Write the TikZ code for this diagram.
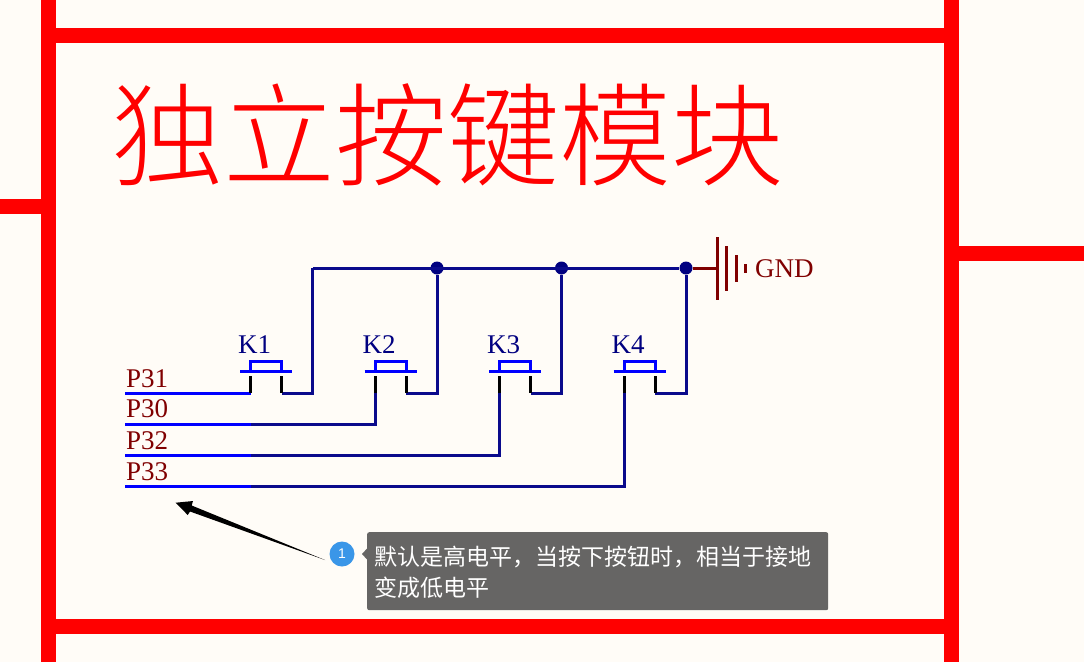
\documentclass[tikz,border=0pt]{standalone}
\usepackage{fontspec}
\setmainfont{Liberation Serif}
\newfontfamily\cjk{Noto Sans CJK SC}
\newfontfamily\cjklight{Noto Sans CJK SC Light}
\newfontfamily\badgefont{Liberation Sans}
\usepackage{tikz}
\usetikzlibrary{arrows.meta,calc,positioning}
\definecolor{paper}{HTML}{FFFCF7}
\definecolor{frame}{HTML}{FF0000}
\definecolor{wire}{HTML}{0A0A8C}
\definecolor{bright}{HTML}{0000FF}
\definecolor{netlabel}{HTML}{800000}
\definecolor{partlabel}{HTML}{000080}
\definecolor{notegrey}{HTML}{666564}
\definecolor{badgeblue}{HTML}{3A96E8}

\begin{document}
\begin{tikzpicture}[
    x=1pt, y=-1pt,
    frameline/.style={frame, line width=15pt},
    wireline/.style={wire, line width=3pt},
    pinline/.style={bright, line width=3pt},
    legline/.style={black, line width=3pt},
    gndline/.style={netlabel, line width=3pt},
    junction/.style={circle, fill=partlabel, inner sep=0pt, minimum size=13pt},
    netname/.style={anchor=west, inner sep=0pt, text=netlabel, font=\fontsize{27}{29}\selectfont},
    partname/.style={anchor=west, inner sep=0pt, text=partlabel, font=\fontsize{27}{29}\selectfont},
    note/.style={rectangle, fill=notegrey, rounded corners=2pt, minimum width=461pt, minimum height=78pt, inner sep=0pt},
    badge/.style={circle, fill=badgeblue, inner sep=0pt, minimum size=25pt, text=white, font=\badgefont\fontsize{14}{14}\selectfont}
]
\useasboundingbox[fill=paper] (0,0) rectangle (1084,662);

% red frame
\draw[frameline] (48.5,0) -- (48.5,662);
\draw[frameline] (951,0) -- (951,662);
\draw[frameline] (48.5,35.5) -- (951,35.5);
\draw[frameline] (48.5,626) -- (951,626);
\draw[frameline] (0,206.5) -- (48.5,206.5);
\draw[frameline] (951,253) -- (1084,253);

\node[inner sep=0pt, text=frame, font=\cjklight\fontsize{112}{112}\selectfont] (title) at (447,135) {独立按键模块};

% net and part names
\node[netname] (p31) at (126,378.5) {P31};
\node[netname] (p30) at (126,408.5) {P30};
\node[netname] (p32) at (126,440.5) {P32};
\node[netname] (p33) at (126,471.5) {P33};
\node[partname] (k1) at (238,345) {K1};
\node[partname] (k2) at (362.5,345) {K2};
\node[partname] (k3) at (487,345) {K3};
\node[partname] (k4) at (611.5,345) {K4};
\node[netname] (gnd) at (755,269) {GND};

% junctions on the ground rail
\coordinate (railstart) at (312.5,268);
\node[junction] (j2) at (437,268) {};
\node[junction] (j3) at (561.5,268) {};
\node[junction] (j4) at (686,268) {};
\coordinate (gndbar) at (717,268);

% left ends of the nets
\coordinate (p31a) at (125,393);
\coordinate (p30a) at (125,424);
\coordinate (p32a) at (125,455);
\coordinate (p33a) at (125,486);
\coordinate (p30b) at (250.5,424);
\coordinate (p32b) at (250.5,455);
\coordinate (p33b) at (250.5,486);

% switch pins
\coordinate (k1l) at (250.5,376);
\coordinate (k1r) at (281.5,376);
\coordinate (k2l) at (375,376);
\coordinate (k2r) at (406,376);
\coordinate (k3l) at (499.5,376);
\coordinate (k3r) at (530.5,376);
\coordinate (k4l) at (624,376);
\coordinate (k4r) at (655,376);

% wires
\draw[wireline] (railstart) -- (j4);
\draw[wireline] (k1r |- p31a) -- (railstart |- p31a) -- (railstart);
\draw[wireline] (k2r |- p31a) -- (j2 |- p31a) -- (j2);
\draw[wireline] (k3r |- p31a) -- (j3 |- p31a) -- (j3);
\draw[wireline] (k4r |- p31a) -- (j4 |- p31a) -- (j4);
\draw[wireline] (p30b) -- (k2l |- p30a) -- (k2l |- p31a);
\draw[wireline] (p32b) -- (k3l |- p32a) -- (k3l |- p31a);
\draw[wireline] (p33b) -- (k4l |- p33a) -- (k4l |- p31a);
\draw[pinline] (p31a) -- (k1l |- p31a);
\draw[pinline] (p30a) -- (p30b);
\draw[pinline] (p32a) -- (p32b);
\draw[pinline] (p33a) -- (p33b);

% pin stubs
\draw[legline] (k1l) -- (k1l |- p31a);
\draw[legline] (k1r) -- (k1r |- p31a);
\draw[legline] (k2l) -- (k2l |- p31a);
\draw[legline] (k2r) -- (k2r |- p31a);
\draw[legline] (k3l) -- (k3l |- p31a);
\draw[legline] (k3r) -- (k3r |- p31a);
\draw[legline] (k4l) -- (k4l |- p31a);
\draw[legline] (k4r) -- (k4r |- p31a);

% switch caps
\draw[pinline] ($(k1l)+(-10.5,-5)$) -- ($(k1r)+(10.5,-5)$);
\draw[pinline] ($(k1l)+(0,-5)$) |- ($(k1r)+(0,-15)$) -- ($(k1r)+(0,-5)$);
\draw[pinline] ($(k2l)+(-10.5,-5)$) -- ($(k2r)+(10.5,-5)$);
\draw[pinline] ($(k2l)+(0,-5)$) |- ($(k2r)+(0,-15)$) -- ($(k2r)+(0,-5)$);
\draw[pinline] ($(k3l)+(-10.5,-5)$) -- ($(k3r)+(10.5,-5)$);
\draw[pinline] ($(k3l)+(0,-5)$) |- ($(k3r)+(0,-15)$) -- ($(k3r)+(0,-5)$);
\draw[pinline] ($(k4l)+(-10.5,-5)$) -- ($(k4r)+(10.5,-5)$);
\draw[pinline] ($(k4l)+(0,-5)$) |- ($(k4r)+(0,-15)$) -- ($(k4r)+(0,-5)$);

% ground symbol
\draw[gndline] (j4) -- (gndbar);
\draw[gndline] ($(gndbar)+(0,-31)$) -- ($(gndbar)+(0,32)$);
\draw[gndline] ($(gndbar)+(9.5,-22)$) -- ($(gndbar)+(9.5,23)$);
\draw[gndline] ($(gndbar)+(19,-13)$) -- ($(gndbar)+(19,14)$);
\draw[gndline] ($(gndbar)+(28,-4)$) -- ($(gndbar)+(28,5)$);

% callout
\node[note, anchor=north west] (tip) at (367,532) {};
\node[anchor=west, align=left, inner sep=0pt, text=white, font=\cjk\fontsize{23}{31}\selectfont] (tiptext) at (374.5,572) {默认是高电平，当按下按钮时，相当于接地\\变成低电平};
\fill[notegrey] (362,554) -- (367.5,548) -- (367.5,560) -- cycle;
\node[badge] (num) at (342,554) {1};

% tapered pointer
\coordinate (tail) at (325,560);
\coordinate (head) at (175.7,502.7);
\fill[black] (tail) -- (191.7,505.5) -- (193,501) -- (head) -- (187.7,515) -- (190,511.5) -- cycle;
\end{tikzpicture}
\end{document}
